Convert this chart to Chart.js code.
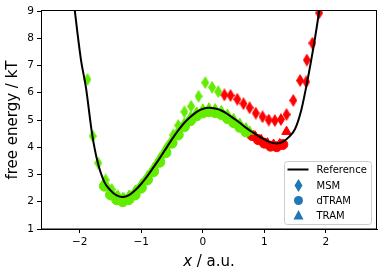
<!DOCTYPE html>
<html>
<head>
<meta charset="utf-8">
<script src="https://cdn.jsdelivr.net/npm/chart.js@4"></script>
<style>
  html, body { margin: 0; padding: 0; background: #fff; }
  canvas { display: block; }
</style>
</head>
<body>
<canvas id="fesChart" width="386" height="277"></canvas>
<script>
// Reference free energy curve
const refX = [-2.2, -2.08, -1.98, -1.9, -1.8, -1.72, -1.6, -1.5, -1.4, -1.3, -1.2, -1.1, -1.0, -0.9, -0.8, -0.7, -0.6, -0.5, -0.4, -0.3, -0.2, -0.1, 0.0, 0.1, 0.2, 0.3, 0.4, 0.5, 0.6, 0.7, 0.8, 0.9, 1.0, 1.1, 1.2, 1.3, 1.4, 1.5, 1.6, 1.7, 1.8, 1.89, 2.0];
const refY = [11.4, 9.0, 7.2, 6.2, 4.5, 3.55, 2.72, 2.42, 2.23, 2.17, 2.24, 2.42, 2.66, 2.95, 3.27, 3.6, 3.95, 4.3, 4.62, 4.9, 5.12, 5.3, 5.41, 5.45, 5.42, 5.35, 5.22, 5.06, 4.9, 4.72, 4.56, 4.42, 4.29, 4.18, 4.14, 4.2, 4.38, 4.68, 5.37, 6.45, 7.7, 9.0, 10.9];

// MSM estimates (diamonds)
const msmGreenX = [-1.875, -1.79, -1.7, -1.58, -1.48, -1.38, -1.28, -1.18, -1.08, -0.98, -0.88, -0.78, -0.68, -0.58, -0.48, -0.4, -0.3, -0.19, -0.07, 0.04, 0.15, 0.25];
const msmGreenY = [6.49, 4.41, 3.42, 2.8, 2.45, 2.22, 2.12, 2.2, 2.4, 2.62, 2.92, 3.25, 3.6, 4.0, 4.45, 4.8, 5.3, 5.5, 5.87, 6.37, 6.2, 6.04];
const msmRedX = [0.35, 0.45, 0.56, 0.66, 0.76, 0.86, 0.97, 1.07, 1.17, 1.27, 1.36, 1.47, 1.58, 1.68, 1.69, 1.78, 1.89];
const msmRedY = [5.92, 5.9, 5.76, 5.6, 5.45, 5.25, 5.12, 5.0, 4.98, 5.02, 5.2, 5.72, 6.45, 6.4, 7.2, 7.82, 8.93];

// dTRAM estimates (circles)
const dtramGreenX = [-1.6, -1.5, -1.4, -1.3, -1.2, -1.1, -1.0, -0.9, -0.8, -0.7, -0.6, -0.5, -0.4, -0.3, -0.2, -0.1, 0.0, 0.1, 0.2, 0.3, 0.4, 0.5, 0.6, 0.7];
const dtramGreenY = [2.57, 2.25, 2.07, 2.0, 2.08, 2.25, 2.5, 2.8, 3.1, 3.45, 3.8, 4.15, 4.45, 4.75, 4.97, 5.15, 5.26, 5.3, 5.27, 5.2, 5.05, 4.9, 4.73, 4.56];
const dtramRedX = [0.8, 0.9, 1.0, 1.1, 1.2, 1.3];
const dtramRedY = [4.43, 4.28, 4.15, 4.04, 4.02, 4.1];

// TRAM estimates (triangles)
const tramGreenX = [-1.6, -1.5, -1.4, -1.3, -1.2, -1.1, -1.0, -0.9, -0.8, -0.7, -0.6, -0.5, -0.4, -0.3, -0.2, -0.1, 0.0, 0.1, 0.2, 0.3, 0.4, 0.5, 0.6, 0.7, 0.76];
const tramGreenY = [2.72, 2.4, 2.2, 2.14, 2.22, 2.4, 2.64, 2.94, 3.25, 3.6, 3.95, 4.28, 4.6, 4.88, 5.1, 5.28, 5.39, 5.43, 5.4, 5.33, 5.2, 5.04, 4.87, 4.7, 4.58];
const tramRedX = [0.85, 0.95, 1.05, 1.15, 1.25, 1.36];
const tramRedY = [4.4, 4.27, 4.15, 4.1, 4.12, 4.57];

const xTicks = [-2, -1, 0, 1, 2];
const yTicks = [1, 2, 3, 4, 5, 6, 7, 8, 9];

const GREEN = "#62ec00";
const RED = "#ff0000";
const LEGEND_BLUE = "#1f77b4";
const FONT = "'DejaVu Sans', sans-serif";

const toPoints = (xs, ys) => xs.map((x, i) => ({ x: x, y: ys[i] }));

// thin diamond marker, like matplotlib 'd'
const thinDiamond = (color) => {
    const c = document.createElement("canvas");
    c.width = 8;
    c.height = 13;
    const g = c.getContext("2d");
    g.fillStyle = color;
    g.beginPath();
    g.moveTo(4, 0);
    g.lineTo(8, 6.5);
    g.lineTo(4, 13);
    g.lineTo(0, 6.5);
    g.closePath();
    g.fill();
    return c;
};

const markerSet = (xs, ys, color, style, radius, order) => ({
    type: "scatter",
    data: toPoints(xs, ys),
    pointStyle: style,
    pointRadius: radius,
    pointBackgroundColor: color,
    pointBorderColor: color,
    pointBorderWidth: 1,
    order: order
});

const minusFmt = (v) => (v < 0 ? "\u2212" + Math.abs(v) : String(v));

// frame, axis titles and legend
const decorations = {
    id: "decorations",
    afterDraw(chart) {
        const ctx = chart.ctx;
        const a = chart.chartArea;
        ctx.save();

        ctx.strokeStyle = "#000";
        ctx.lineWidth = 1;
        ctx.strokeRect(Math.round(a.left) + 0.5, Math.round(a.top) - 0.5, Math.round(a.right - a.left) - 1, Math.round(a.bottom - a.top) + 0.5);

        // x title with italic x
        ctx.fillStyle = "#000";
        ctx.textBaseline = "alphabetic";
        ctx.textAlign = "left";
        const italic = "italic 15px " + FONT;
        const normal = "15px " + FONT;
        ctx.font = italic;
        const w1 = ctx.measureText("x").width;
        ctx.font = normal;
        const w2 = ctx.measureText(" / a.u.").width;
        const cx = (a.left + a.right) / 2;
        let sx = cx - (w1 + w2) / 2;
        ctx.font = italic;
        ctx.fillText("x", sx, 265.5);
        ctx.font = normal;
        ctx.fillText(" / a.u.", sx + w1, 265.5);

        // y title
        ctx.save();
        ctx.translate(13, (a.top + a.bottom) / 2);
        ctx.rotate(-Math.PI / 2);
        ctx.textAlign = "center";
        ctx.textBaseline = "middle";
        ctx.font = normal;
        ctx.fillText("free energy / kT", 0, 0);
        ctx.restore();

        // legend box
        const bw = 87, bh = 63;
        const bx = a.right - 5.5 - bw;
        const by = a.bottom - 4.5 - bh;
        ctx.beginPath();
        ctx.roundRect(bx, by, bw, bh, 3);
        ctx.fillStyle = "rgba(255,255,255,0.8)";
        ctx.fill();
        ctx.strokeStyle = "#cccccc";
        ctx.lineWidth = 1;
        ctx.stroke();

        const mx = bx + 14;
        const tx = bx + 32;
        const rows = [by + 8, by + 24, by + 39, by + 54];
        ctx.font = "10px " + FONT;
        ctx.textBaseline = "middle";
        ctx.textAlign = "left";

        // Reference
        ctx.strokeStyle = "#000";
        ctx.lineWidth = 2;
        ctx.beginPath();
        ctx.moveTo(bx + 3, rows[0]);
        ctx.lineTo(bx + 24, rows[0]);
        ctx.stroke();
        ctx.fillStyle = "#000";
        ctx.fillText("Reference", tx, rows[0] + 0.5);

        // MSM
        ctx.fillStyle = LEGEND_BLUE;
        ctx.beginPath();
        ctx.moveTo(mx, rows[1] - 6.5);
        ctx.lineTo(mx + 4, rows[1]);
        ctx.lineTo(mx, rows[1] + 6.5);
        ctx.lineTo(mx - 4, rows[1]);
        ctx.closePath();
        ctx.fill();
        ctx.fillStyle = "#000";
        ctx.fillText("MSM", tx, rows[1] + 0.5);

        // dTRAM
        ctx.fillStyle = LEGEND_BLUE;
        ctx.beginPath();
        ctx.arc(mx, rows[2], 4.5, 0, Math.PI * 2);
        ctx.fill();
        ctx.fillStyle = "#000";
        ctx.fillText("dTRAM", tx, rows[2] + 0.5);

        // TRAM
        ctx.fillStyle = LEGEND_BLUE;
        ctx.beginPath();
        ctx.moveTo(mx, rows[3] - 5.5);
        ctx.lineTo(mx + 5, rows[3] + 4);
        ctx.lineTo(mx - 5, rows[3] + 4);
        ctx.closePath();
        ctx.fill();
        ctx.fillStyle = "#000";
        ctx.fillText("TRAM", tx, rows[3] + 0.5);

        ctx.restore();
    }
};

const greenDiamond = thinDiamond(GREEN);
const redDiamond = thinDiamond(RED);

new Chart(document.getElementById("fesChart"), {
    type: "scatter",
    data: {
        datasets: [
            {
                type: "line",
                label: "Reference",
                data: toPoints(refX, refY),
                borderColor: "#000",
                borderWidth: 2,
                pointRadius: 0,
                fill: false,
                cubicInterpolationMode: "monotone",
                order: 0
            },
            markerSet(tramGreenX, tramGreenY, GREEN, "triangle", 5.5, 1),
            markerSet(dtramGreenX, dtramGreenY, GREEN, "circle", 5, 2),
            markerSet(msmGreenX, msmGreenY, GREEN, greenDiamond, 5, 3),
            markerSet(tramRedX, tramRedY, RED, "triangle", 5.5, 1),
            markerSet(dtramRedX, dtramRedY, RED, "circle", 5, 2),
            markerSet(msmRedX, msmRedY, RED, redDiamond, 5, 3)
        ]
    },
    options: {
        responsive: false,
        animation: false,
        layout: { padding: { left: 0, right: 9, top: 11, bottom: 0 } },
        plugins: {
            legend: { display: false },
            tooltip: { enabled: false }
        },
        scales: {
            x: {
                type: "linear",
                min: -2.63,
                max: 2.83,
                afterBuildTicks: (s) => { s.ticks = xTicks.map(v => ({ value: v })); },
                afterFit: (s) => { s.height = 48; },
                ticks: {
                    font: { family: FONT, size: 10.5 },
                    color: "#000",
                    padding: 3,
                    maxRotation: 0,
                    autoSkip: false,
                    callback: minusFmt
                },
                grid: { drawOnChartArea: false, drawTicks: true, tickLength: 4, color: "#000", lineWidth: 1 },
                border: { display: true, color: "#000", width: 1 }
            },
            y: {
                type: "linear",
                min: 1,
                max: 9,
                afterBuildTicks: (s) => { s.ticks = yTicks.map(v => ({ value: v })); },
                afterFit: (s) => { s.width = 41; },
                ticks: {
                    font: { family: FONT, size: 10.5 },
                    color: "#000",
                    padding: 3,
                    autoSkip: false,
                    callback: minusFmt
                },
                grid: { drawOnChartArea: false, drawTicks: true, tickLength: 4, color: "#000", lineWidth: 1 },
                border: { display: true, color: "#000", width: 1 }
            }
        }
    },
    plugins: [decorations]
});
</script>
</body>
</html>
